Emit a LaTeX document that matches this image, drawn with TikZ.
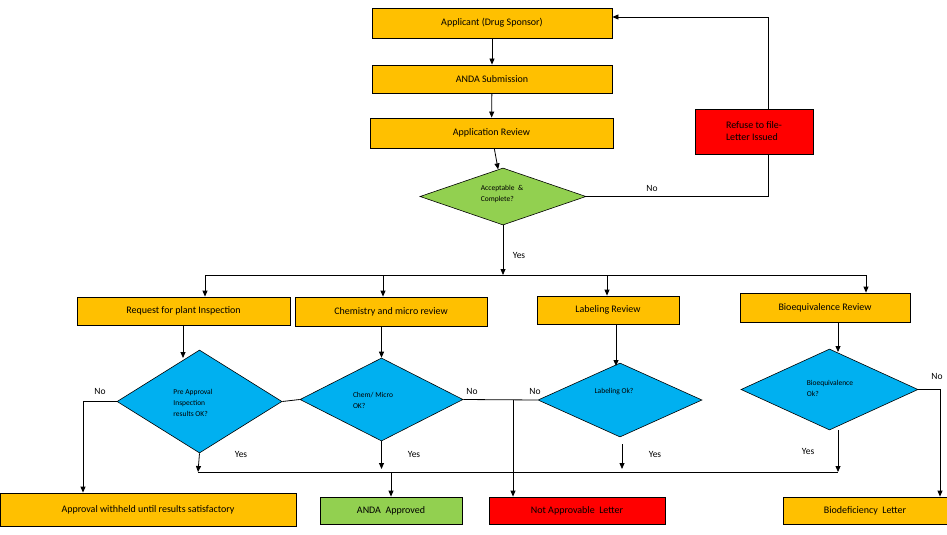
\documentclass[tikz,border=0pt]{standalone}
\usepackage{fontspec}
\setmainfont{Carlito}
\usetikzlibrary{shapes.geometric,arrows.meta}
\definecolor{org}{HTML}{FFC000}
\definecolor{grn}{HTML}{92D050}
\definecolor{rd}{HTML}{FF0000}
\definecolor{blu}{HTML}{00B0F0}
\begin{document}
\begin{tikzpicture}[x=1pt,y=-1pt,
  box/.style={draw=black,line width=0.8pt,inner sep=0pt,font=\fontsize{10}{12}\selectfont},
  dia/.style={diamond,draw=black,line width=0.6pt,inner sep=0pt},
  dtxt/.style={font=\fontsize{7.5}{11}\selectfont,align=left,inner sep=0pt},
  lbl/.style={font=\fontsize{9.5}{12}\selectfont,inner sep=0pt},
  arr/.style={-{Triangle[length=6pt,width=5pt]},line width=0.8pt},
  ln/.style={line width=0.8pt}]
\useasboundingbox (0,0) rectangle (947,535);
% top column
\node[box,fill=org,minimum width=240pt,minimum height=30pt] (app) at (492,23) {Applicant (Drug Sponsor)};
\node[box,fill=org,minimum width=240pt,minimum height=28pt] (sub) at (492,79) {ANDA Submission};
\node[box,fill=org,minimum width=243pt,minimum height=30pt] (rev) at (491.5,133) {Application Review};
\node[dia,fill=grn,minimum width=166pt,minimum height=57pt] (acc) at (503,196.5) {};
\node[dtxt] (acct) at (502,194) {Acceptable~~\&\\Complete?};
\node[box,fill=rd,minimum width=118pt,minimum height=45pt,align=left] (ref) at (754,131.5) {Refuse to file-\\Letter Issued};
\coordinate (c1) at (768,196.5);
\coordinate (c2) at (768,17);
\draw[ln] (acc.east) -- (c1) -- (c2);
\draw[arr] (c2) -- (app.east |- c2);
\node[box,fill=rd,minimum width=118pt,minimum height=45pt,align=left] at (754,131.5) {Refuse to file-\\Letter Issued};
\node[lbl] (no0) at (652,188) {No};
\draw[arr] (app) -- (sub);
\draw[arr] (sub) -- (rev);
\draw[arr] (rev) -- (acc);
% second row
\node[box,fill=org,minimum width=213pt,minimum height=28pt] (req) at (183.5,311) {Request for plant Inspection};
\node[box,fill=org,minimum width=192pt,minimum height=29pt] (chm) at (391,311.5) {Chemistry and micro review};
\node[box,fill=org,minimum width=142pt,minimum height=28pt] (lab) at (608,310) {Labeling Review};
\node[box,fill=org,minimum width=170pt,minimum height=29pt] (bio) at (825,307.5) {Bioequivalence Review};
\coordinate (bus) at (503,275);
\draw[arr] (acc.south) -- (bus);
\node[lbl] (yes0) at (519,255) {Yes};
\draw[ln] (205,275) coordinate (b1) -- (866,275) coordinate (b4);
\draw[arr] (b1) -- (b1 |- req.north);
\draw[arr] (383,275) coordinate (b2) -- (b2 |- chm.north);
\draw[arr] (607,275) coordinate (b3) -- (b3 |- lab.north);
\draw[arr] (b4) -- (b4 |- bio.north);
% diamonds
\node[dia,fill=blu,minimum width=165pt,minimum height=103pt] (pre) at (199.5,401.5) {};
\node[dtxt] (pret) at (193,403) {Pre Approval\\Inspection\\results OK?};
\node[dia,fill=blu,minimum width=163pt,minimum height=83pt] (cmd) at (381.5,399.5) {};
\node[dtxt] (cmdt) at (373,400) {Chem/ Micro\\OK?};
\node[dia,fill=blu,minimum width=164pt,minimum height=74pt] (lbd) at (620,400) {};
\node[dtxt] (lbdt) at (614,392) {Labeling Ok?};
\node[dia,fill=blu,minimum width=177pt,minimum height=81pt] (bid) at (829.5,389.5) {};
\node[dtxt] (bidt) at (830,388) {Bioequivalence\\Ok?};
\draw[arr] (183,325) -- (183,358);
\draw[arr] (chm.south -| cmd.north) -- (cmd.north);
\draw[arr] (616,324) -- (616,366);
\draw[arr] (838,322) -- (838,352);
% bottom boxes
\node[box,fill=org,minimum width=296pt,minimum height=33pt] (aw) at (148,509.5) {Approval withheld until results satisfactory};
\node[box,fill=grn,minimum width=142pt,minimum height=27pt] (ap) at (391,510.5) {ANDA~~Approved};
\node[box,fill=rd,minimum width=176pt,minimum height=27pt] (na) at (577,510.5) {Not Approvable~~Letter};
\node[box,fill=org,minimum width=164pt,minimum height=27pt] (bl) at (865,510.5) {Biodeficiency~~Letter};
% connectors
\draw[ln] (pre.east) -- (cmd.west);
\draw[ln] (cmd.east) -- (lbd.west);
\coordinate (w1) at (83,401.5);
\draw[arr] (pre.west) -- (w1) -- (w1 |- aw.north);
\coordinate (n1) at (513,400);
\draw[arr] (n1) -- (n1 |- na.north);
\coordinate (e1) at (940,389.5);
\draw[arr] (bid.east) -- (e1) -- (e1 |- bl.north);
\coordinate (y1) at (198,472);
\coordinate (y4) at (838,472);
\draw[ln] (y1) -- (y4);
\draw[arr] (pre.south) -- (y1);
\draw[arr] (cmd.south) -- (381.5,469);
\draw[arr] (622,444) -- (622,469);
\draw[arr] (838,430) -- (y4);
\draw[arr] (391,472) -- (ap.north);
\node[lbl] at (100,391) {No};
\node[lbl] at (472,391) {No};
\node[lbl] at (535,391) {No};
\node[lbl] at (937,376) {No};
\node[lbl] at (241,454) {Yes};
\node[lbl] at (414,454) {Yes};
\node[lbl] at (655,454) {Yes};
\node[lbl] at (808,451) {Yes};
\end{tikzpicture}
\end{document}
